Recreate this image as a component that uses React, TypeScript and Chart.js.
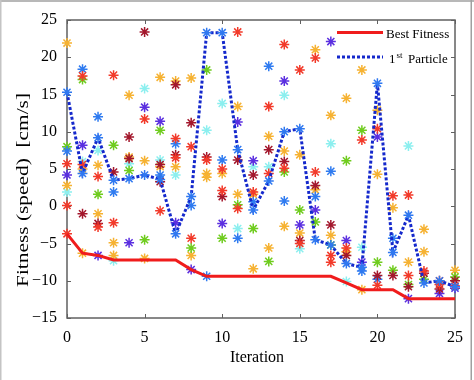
import React, { useEffect, useRef } from "react";
import { Chart, registerables } from "chart.js";

Chart.register(...registerables);

const FONT = '"Liberation Serif", "Times New Roman", serif';

const iterations = [0, 1, 2, 3, 4, 5, 6, 7, 8, 9, 10, 11, 12, 13, 14, 15, 16, 17, 18, 19, 20, 21, 22, 23, 24, 25];
const bestFitness = [-3.7, -6.3, -6.6, -7.2, -7.2, -7.2, -7.2, -7.2, -8.5, -9.4, -9.4, -9.4, -9.4, -9.4, -9.4, -9.4, -9.4, -9.4, -10.3, -11.2, -11.2, -11.2, -12.4, -12.4, -12.4, -12.4];
const firstParticle = [15.3, 4.4, 9.2, 3.5, 3.7, 4.2, 3.6, -3.7, 1.3, 23.3, 23.3, 7.6, -0.5, 3.4, 10.0, 10.4, -4.5, -5.2, -7.7, -8.2, 16.5, -6.2, -1.2, -10.3, -10.0, -10.8];

const xTicks = [0, 5, 10, 15, 20, 25];
const yTicks = [-15, -10, -5, 0, 5, 10, 15, 20, 25];

type Pt = [number, number];

const redPts: Pt[] = [
  [0, 5.7], [0, 0.1], [0, -3.7], [1, 17.5], [1, 5.6], [2, 4.0], [2, -2.8], [3, 17.6], [3, -2.2],
  [5, 11.7], [6, -0.6], [7, 9.1], [7, 6.5], [8, 8.0], [8, -4.3], [9, 6.2], [10, 5.0], [10, 2.1],
  [11, 23.4], [11, -0.3], [12, 1.9], [13, 13.4], [13, 4.4], [14, 21.7], [14, 5.1], [15, 18.3], [15, -5.0],
  [16, 19.9], [16, 4.6], [17, -6.6], [17, -7.5], [18, -5.6], [19, 8.9], [20, 10.4], [20, -10.6],
  [21, 1.4], [22, 1.5], [22, -9.3], [23, -8.7], [24, -10.0], [24, -10.5], [25, -10.7],
];
const orangePts: Pt[] = [
  [0, 21.9], [0, 2.8], [1, -6.3], [1, 5.0], [2, 5.5], [2, -1.0], [3, -4.9], [3, -6.6], [4, 14.9], [4, 6.6],
  [5, 6.1], [5, -7.0], [6, 17.3], [6, 5.3], [7, 16.8], [7, 5.3], [8, 17.2], [8, -6.6], [9, 4.4], [9, 3.9],
  [10, 4.4], [11, 13.4], [11, 1.6], [12, 1.6], [12, -8.4], [13, 9.4], [13, -5.6], [14, 7.4], [14, -2.7],
  [15, 6.9], [15, -3.6], [16, 21.0], [16, 2.2], [17, 12.2], [17, -3.9], [18, 14.5], [18, -6.1], [19, 18.3],
  [19, -11.2], [20, 12.9], [20, 4.3], [21, -0.2], [22, -7.5], [23, -3.1], [23, -6.1], [25, -8.6],
];
const darkRedPts: Pt[] = [
  [1, -1.0], [2, -2.3], [3, 4.6], [4, 9.3], [4, 6.4], [5, 23.4], [6, 5.6], [6, 3.3], [7, 16.3], [7, 6.9],
  [8, 11.2], [9, 6.6], [10, 1.3], [11, 6.2], [12, 4.2], [13, 7.6], [14, 6.0], [15, -4.6], [16, 2.8],
  [17, -2.5], [18, -6.6], [20, -9.3], [21, -9.3], [22, -10.8], [23, -9.0], [24, -11.1], [25, -10.0],
];
const bluePts: Pt[] = [
  [0, 7.4], [1, 18.4], [2, 12.0], [3, 1.9], [6, 4.2], [7, 8.4], [8, 0.1], [9, -9.4], [10, 6.2], [11, -4.3],
  [12, 0.6], [13, 18.8], [14, 0.7], [16, 1.3], [17, 4.7], [19, -8.7], [20, -9.8], [21, -4.3],
];
const purplePts: Pt[] = [
  [0, 4.2], [1, 8.2], [2, -6.6], [4, -4.9], [5, 13.3], [6, 11.4], [7, -2.2], [8, -8.5], [10, -2.3],
  [11, 11.3], [12, 6.1], [14, 16.8], [15, -2.5], [16, -0.5], [17, 22.1], [18, -4.6], [19, -7.5],
  [20, 9.3], [22, -12.4], [24, -11.7], [25, -11.0],
];
const greenPts: Pt[] = [
  [0, 8.0], [1, 17.0], [2, 1.6], [3, 8.2], [4, 4.8], [5, -4.5], [6, 10.2], [8, -5.6], [9, 18.3], [10, -4.3],
  [11, 0.2], [12, -3.0], [13, -7.4], [14, 4.6], [15, -0.5], [16, -2.1], [17, -5.2], [18, 6.1], [19, 10.2],
  [20, -7.5], [21, -8.6], [22, -10.5], [23, -9.8], [25, -9.5],
];
const cyanPts: Pt[] = [
  [0, 1.9], [1, 6.0], [2, 7.5], [3, -7.3], [4, 5.7], [5, 15.8], [6, 6.2], [7, 4.2], [9, 10.2], [10, 13.8],
  [11, -3.0], [12, 5.3], [13, 5.3], [14, 14.9], [15, -5.7], [17, 8.4], [18, -10.1], [19, -5.5], [22, 8.1],
];

const scatterGroups: { pts: Pt[]; color: string }[] = [
  { pts: redPts, color: "#f23a2a" },
  { pts: darkRedPts, color: "#a3172c" },
  { pts: purplePts, color: "#5b2fe0" },
  { pts: bluePts, color: "#2f7bf0" },
  { pts: greenPts, color: "#6fcc1e" },
  { pts: orangePts, color: "#f6b232" },
  { pts: cyanPts, color: "#8cefef" },
];

const fmt = (v: number) => (v < 0 ? "\u2212" + Math.abs(v) : String(v));

const decorPlugin = {
  id: "decor",
  beforeDraw(chart: any) {
    const ctx = chart.ctx;
    ctx.save();
    ctx.fillStyle = "#ffffff";
    ctx.fillRect(0, 0, chart.width, chart.height);
    ctx.fillStyle = "#b8b8b8";
    ctx.fillRect(0, 0, chart.width, 2);
    ctx.fillStyle = "#c4c4c4";
    ctx.fillRect(0, 0, 1.5, chart.height);
    ctx.fillStyle = "#a0a0a0";
    ctx.fillRect(470.5, 0, 1.5, chart.height);
    ctx.restore();
  },
  beforeDatasetsDraw(chart: any) {
    const { ctx, chartArea: a, scales } = chart;
    ctx.save();
    ctx.strokeStyle = "#606060";
    ctx.lineWidth = 1.5;
    ctx.strokeRect(a.left, a.top, a.right - a.left, a.bottom - a.top);
    ctx.lineWidth = 1;
    ctx.beginPath();
    for (const v of xTicks) {
      const px = Math.round(scales.x.getPixelForValue(v)) + 0.5;
      ctx.moveTo(px, a.bottom);
      ctx.lineTo(px, a.bottom - 4);
      ctx.moveTo(px, a.top);
      ctx.lineTo(px, a.top + 4);
    }
    for (const v of yTicks) {
      const py = Math.round(scales.y.getPixelForValue(v)) + 0.5;
      ctx.moveTo(a.left, py);
      ctx.lineTo(a.left + 4, py);
      ctx.moveTo(a.right, py);
      ctx.lineTo(a.right - 4, py);
    }
    ctx.stroke();
    ctx.restore();
  },
  afterDraw(chart: any) {
    const ctx = chart.ctx;
    ctx.save();
    ctx.fillStyle = "#000";
    // x title
    ctx.font = `16px ${FONT}`;
    ctx.textAlign = "center";
    ctx.textBaseline = "alphabetic";
    ctx.fillText("Iteration", 257, 362);
    // y title (stretched along its direction)
    const yTitle = "Fitness (speed)  [cm/s]";
    ctx.font = `17px ${FONT}`;
    const w = ctx.measureText(yTitle).width;
    ctx.save();
    ctx.translate(28, 190);
    ctx.rotate(-Math.PI / 2);
    ctx.scale(194 / w, 1);
    ctx.textAlign = "center";
    ctx.fillText(yTitle, 0, 0);
    ctx.restore();

    // legend
    ctx.lineWidth = 3;
    ctx.strokeStyle = "#f01c1c";
    ctx.beginPath();
    ctx.moveTo(337, 32.5);
    ctx.lineTo(383, 32.5);
    ctx.stroke();
    ctx.strokeStyle = "#1428cc";
    ctx.setLineDash([3, 2]);
    ctx.beginPath();
    ctx.moveTo(337, 57);
    ctx.lineTo(383, 57);
    ctx.stroke();
    ctx.setLineDash([]);
    ctx.textAlign = "left";
    ctx.textBaseline = "alphabetic";
    ctx.font = `13px ${FONT}`;
    ctx.fillText("Best Fitness", 386, 38);
    ctx.fillText("1", 389, 63);
    const oneW = ctx.measureText("1").width;
    ctx.font = `9px ${FONT}`;
    ctx.fillText("st", 389 + oneW + 1, 58);
    ctx.font = `13px ${FONT}`;
    ctx.fillText("Particle", 408, 63);
    ctx.restore();
  },
};

export default function App() {
  const ref = useRef<HTMLCanvasElement | null>(null);

  useEffect(() => {
    if (!ref.current) return;
    const lineData = (vals: number[]) => iterations.map((x, i) => ({ x, y: vals[i] }));
    const datasets: any[] = [
      {
        label: "Best Fitness",
        data: lineData(bestFitness),
        showLine: true,
        borderColor: "#f01c1c",
        backgroundColor: "#f01c1c",
        borderWidth: 3,
        pointRadius: 0,
        clip: false,
      },
      {
        label: "1st Particle",
        data: lineData(firstParticle),
        showLine: true,
        borderColor: "#1428cc",
        borderWidth: 3,
        borderDash: [3, 2],
        pointStyle: "star",
        pointRadius: 5,
        pointBorderColor: "#2f78f0",
        pointBackgroundColor: "#2f78f0",
        pointBorderWidth: 1.5,
        clip: false,
      },
      ...scatterGroups.map((g, i) => ({
        label: "g" + i,
        data: g.pts.map(([x, y]) => ({ x, y })),
        showLine: false,
        pointStyle: "star",
        pointRadius: 5,
        borderWidth: 1.5,
        borderColor: g.color,
        backgroundColor: g.color,
        clip: false,
      })),
    ];

    const chart = new Chart(ref.current, {
      type: "scatter",
      data: { datasets },
      plugins: [decorPlugin as any],
      options: {
        animation: false,
        responsive: false,
        devicePixelRatio: 1,
        events: [],
        layout: { padding: { left: 0, right: 19, top: 20, bottom: 0 } },
        plugins: { legend: { display: false }, tooltip: { enabled: false } },
        scales: {
          x: {
            type: "linear",
            min: 0,
            max: 25,
            grid: { display: false, drawTicks: false },
            border: { display: false },
            afterBuildTicks: (s: any) => {
              s.ticks = xTicks.map((v) => ({ value: v }));
            },
            afterFit: (s: any) => {
              s.height = 62;
            },
            ticks: {
              padding: 10,
              color: "#000",
              font: { family: FONT, size: 16 },
              maxRotation: 0,
              callback: (v: any) => fmt(Number(v)),
            },
          },
          y: {
            type: "linear",
            min: -15,
            max: 25,
            grid: { display: false, drawTicks: false },
            border: { display: false },
            afterBuildTicks: (s: any) => {
              s.ticks = yTicks.map((v) => ({ value: v }));
            },
            afterFit: (s: any) => {
              s.width = 67;
            },
            ticks: {
              padding: 10,
              color: "#000",
              font: { family: FONT, size: 16 },
              callback: (v: any) => fmt(Number(v)),
            },
          },
        },
      },
    });
    return () => chart.destroy();
  }, []);

  return (
    <div style={{ position: "fixed", left: 0, top: 0, width: 474, height: 380, background: "#fff" }}>
      <canvas ref={ref} width={474} height={380} style={{ display: "block", width: 474, height: 380 }} />
    </div>
  );
}
